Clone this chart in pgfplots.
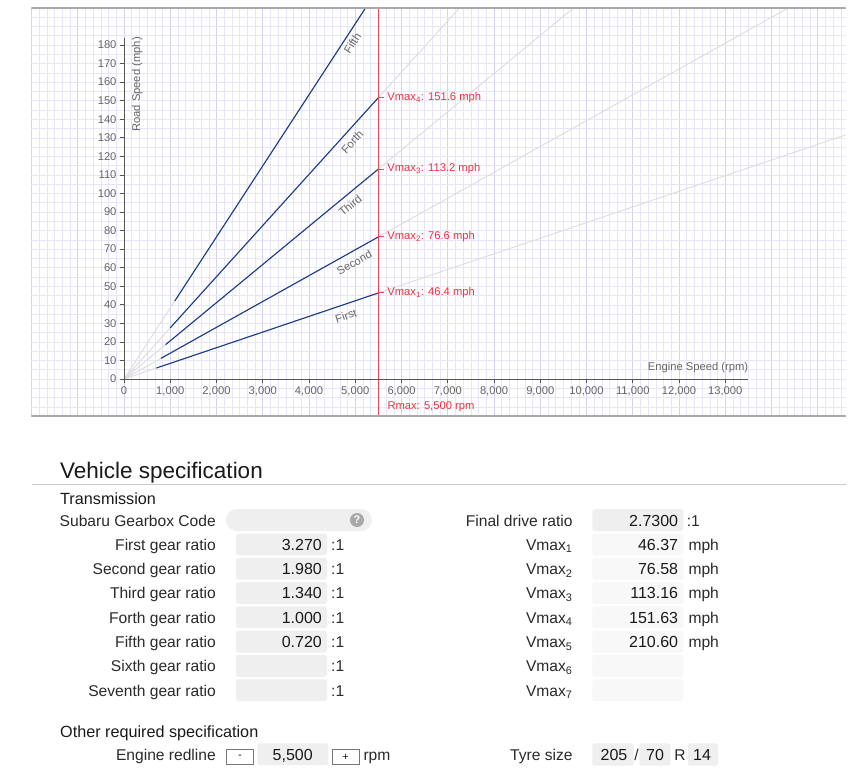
\documentclass[border=0pt]{standalone}
\usepackage{pgfplots}
\pgfplotsset{compat=1.18}
\usepackage{fontspec}
\setmainfont{Liberation Sans}
\definecolor{gmin}{HTML}{E6E6F8}
\definecolor{gmaj}{HTML}{D2D2F2}
\definecolor{bordergray}{HTML}{A8A8A8}
\definecolor{sepgray}{HTML}{C8C8C8}
\definecolor{navy}{HTML}{1A3A8C}
\definecolor{gext}{HTML}{DCDCDC}
\definecolor{redline}{HTML}{F04858}
\definecolor{redtext}{HTML}{F03040}
\definecolor{axisgray}{HTML}{555555}
\definecolor{tickgray}{HTML}{666666}
\definecolor{labelc}{HTML}{2A2A2A}
\definecolor{valc}{HTML}{1A1A1A}
\definecolor{boxgray}{HTML}{EFEFEF}
\definecolor{boxlight}{HTML}{F8F8F8}
\definecolor{qgray}{HTML}{A8A8A8}
\definecolor{btngray}{HTML}{777777}
\newcommand\cfont{\fontsize{11.2}{12.5}\selectfont}
\newcommand\ffont{\fontsize{15.6}{18}\selectfont}
\newcommand\hfont{\fontsize{16.2}{19}\selectfont}
\newcommand\vfont{\fontsize{16}{19}\selectfont}
\newcommand\lbl[3]{\node[anchor=base east, inner sep=0, text=labelc, font=\ffont] at (#1pt,-#2pt) {#3};}
\newcommand\val[3]{\node[anchor=base east, inner sep=0, text=valc, font=\vfont] at (#1pt,-#2pt) {#3};}
\newcommand\unit[3]{\node[anchor=base west, inner sep=0, text=labelc, font=\ffont] at (#1pt,-#2pt) {#3};}
\newcommand\gbox[3]{\fill[#3, rounded corners=2.5pt] (#1pt,-#2pt+16.8pt) rectangle ++(91pt,-21.8pt);}
\begin{document}
\begin{tikzpicture}
\path[use as bounding box, fill=white] (0pt,0pt) rectangle (857pt,-782pt);

% ---------- graph paper + data ----------
\begin{axis}[
  anchor=south west, at={(31.5pt,-416.1pt)},
  scale only axis, width=814pt, height=408.2pt,
  xmin=-2000, xmax=15600, ymin=-20, ymax=200,
  axis line style={draw=none},
  xtick={-3000,-2000,...,16000}, minor x tick num=5,
  ytick={-20,200}, minor y tick num=43,
  scaled ticks=false,
  grid=both,
  major grid style={gmaj, line width=0.6pt},
  minor grid style={gmin, line width=0.5pt},
  tick style={draw=none},
  xticklabels={}, yticklabels={},
  clip=true,
]
% light extensions from the origin
\addplot[gext, line width=0.9pt] coordinates {(0,0) (15600,131.52)};
\addplot[gext, line width=0.9pt] coordinates {(0,0) (14364,200)};
\addplot[gext, line width=0.9pt] coordinates {(0,0) (9721,200)};
\addplot[gext, line width=0.9pt] coordinates {(0,0) (7254,200)};
\addplot[gext, line width=0.9pt] coordinates {(0,0) (5223,200)};
% gear lines
\addplot[navy, line width=1.1pt] coordinates {(700,5.90) (5500,46.37)};
\addplot[navy, line width=1.1pt] coordinates {(800,11.14) (5500,76.58)};
\addplot[navy, line width=1.1pt] coordinates {(900,18.52) (5500,113.16)};
\addplot[navy, line width=1.1pt] coordinates {(1000,27.57) (5500,151.63)};
\addplot[navy, line width=1.1pt] coordinates {(1100,42.12) (5223,200)};
% redline
\addplot[redline, line width=1pt] coordinates {(5500,-20) (5500,200)};
\addplot[redline, line width=1pt] coordinates {(5500,46.37) (5630,46.37)};
\addplot[redline, line width=1pt] coordinates {(5500,76.58) (5630,76.58)};
\addplot[redline, line width=1pt] coordinates {(5500,113.16) (5630,113.16)};
\addplot[redline, line width=1pt] coordinates {(5500,151.63) (5630,151.63)};
% labels
\node[anchor=west, inner sep=0, xshift=2.8pt, text=redtext, font=\cfont] at (axis cs:5630,46.37) {Vmax\textsubscript{1}: 46.4 mph};
\node[anchor=west, inner sep=0, xshift=2.8pt, text=redtext, font=\cfont] at (axis cs:5630,76.58) {Vmax\textsubscript{2}: 76.6 mph};
\node[anchor=west, inner sep=0, xshift=2.8pt, text=redtext, font=\cfont] at (axis cs:5630,113.16) {Vmax\textsubscript{3}: 113.2 mph};
\node[anchor=west, inner sep=0, xshift=2.8pt, text=redtext, font=\cfont] at (axis cs:5630,151.63) {Vmax\textsubscript{4}: 151.6 mph};
\node[anchor=base west, inner sep=0, text=redtext, font=\cfont] at (axis cs:5693,-16.3) {Rmax: 5,500 rpm};
\node[rotate=56.94, text=tickgray, font=\cfont, inner sep=0] at (axis cs:4940,180.9) {Fifth};
\node[rotate=47.88, text=tickgray, font=\cfont, inner sep=0] at (axis cs:4934,127.7) {Forth};
\node[rotate=39.54, text=tickgray, font=\cfont, inner sep=0] at (axis cs:4891,93.6) {Third};
\node[rotate=29.19, text=tickgray, font=\cfont, inner sep=0] at (axis cs:4977,62.7) {Second};
\node[rotate=18.69, text=tickgray, font=\cfont, inner sep=0] at (axis cs:4799,34.1) {First};
\draw[bordergray, line width=1.3pt] (rel axis cs:0,1) -- (rel axis cs:1,1);
\draw[bordergray, line width=1.3pt] (rel axis cs:0,0) -- (rel axis cs:1,0);
\end{axis}

% ---------- real axes ----------
\begin{axis}[
  anchor=south west, at={(124pt,-379pt)},
  scale only axis, width=624.4pt, height=341.4pt,
  xmin=0, xmax=13500, ymin=0, ymax=184,
  axis lines=left,
  axis line style={-, axisgray, line width=0.8pt},
  xtick={0,1000,...,13000}, ytick={0,10,...,180},
  scaled ticks=false,
  tick align=outside, major tick length=4pt,
  tick style={axisgray, line width=0.7pt},
  tick label style={font=\cfont, text=tickgray},
  /pgf/number format/1000 sep={,},
  /pgf/number format/assume math mode=true,
]
\node[anchor=base east, inner sep=0, text=tickgray, font=\cfont] at (axis cs:13500,4.6) {Engine Speed (rpm)};
\end{axis}
\node[rotate=90, anchor=north east, inner sep=0, text=tickgray, font=\cfont] at (131.7pt,-37pt) {Road Speed (mph)};

% ---------- specification form ----------
\node[anchor=base west, inner sep=0, text=valc, font=\fontsize{22.5}{26}\selectfont] at (60pt,-478.3pt) {Vehicle specification};
\draw[sepgray, line width=1.6pt] (31.5pt,-484.5pt) -- (845.5pt,-484.5pt);
\node[anchor=base west, inner sep=0, text=valc, font=\hfont] at (60pt,-504pt) {Transmission};

% gearbox code
\fill[boxgray, rounded corners=11pt] (226pt,-509pt) rectangle (372pt,-531pt);
\fill[qgray] (357pt,-520pt) circle (7pt);
\node[text=white, font=\bfseries\fontsize{11}{12}\selectfont, inner sep=0] at (357pt,-520pt) {?};
\lbl{216}{526}{Subaru Gearbox Code}

% gear ratio rows
\gbox{236}{550.3}{boxgray}\lbl{216}{550.3}{First gear ratio}\val{322}{550.3}{3.270}\unit{331}{550.3}{:1}
\gbox{236}{574.6}{boxgray}\lbl{216}{574.6}{Second gear ratio}\val{322}{574.6}{1.980}\unit{331}{574.6}{:1}
\gbox{236}{598.9}{boxgray}\lbl{216}{598.9}{Third gear ratio}\val{322}{598.9}{1.340}\unit{331}{598.9}{:1}
\gbox{236}{623.2}{boxgray}\lbl{216}{623.2}{Forth gear ratio}\val{322}{623.2}{1.000}\unit{331}{623.2}{:1}
\gbox{236}{647.5}{boxgray}\lbl{216}{647.5}{Fifth gear ratio}\val{322}{647.5}{0.720}\unit{331}{647.5}{:1}
\gbox{236}{671.8}{boxgray}\lbl{216}{671.8}{Sixth gear ratio}\unit{331}{671.8}{:1}
\gbox{236}{696.1}{boxgray}\lbl{216}{696.1}{Seventh gear ratio}\unit{331}{696.1}{:1}

% right column
\gbox{592.3}{526}{boxgray}\lbl{572.7}{526}{Final drive ratio}\val{678.3}{526}{2.7300}\unit{686.7}{526}{:1}
\gbox{592.3}{550.3}{boxlight}\lbl{572.7}{550.3}{Vmax\textsubscript{1}}\val{678.3}{550.3}{46.37}\unit{688.3}{550.3}{mph}
\gbox{592.3}{574.6}{boxlight}\lbl{572.7}{574.6}{Vmax\textsubscript{2}}\val{678.3}{574.6}{76.58}\unit{688.3}{574.6}{mph}
\gbox{592.3}{598.9}{boxlight}\lbl{572.7}{598.9}{Vmax\textsubscript{3}}\val{678.3}{598.9}{113.16}\unit{688.3}{598.9}{mph}
\gbox{592.3}{623.2}{boxlight}\lbl{572.7}{623.2}{Vmax\textsubscript{4}}\val{678.3}{623.2}{151.63}\unit{688.3}{623.2}{mph}
\gbox{592.3}{647.5}{boxlight}\lbl{572.7}{647.5}{Vmax\textsubscript{5}}\val{678.3}{647.5}{210.60}\unit{688.3}{647.5}{mph}
\gbox{592.3}{671.8}{boxlight}\lbl{572.7}{671.8}{Vmax\textsubscript{6}}
\gbox{592.3}{696.1}{boxlight}\lbl{572.7}{696.1}{Vmax\textsubscript{7}}

% other required specification
\node[anchor=base west, inner sep=0, text=valc, font=\hfont] at (60pt,-737.7pt) {Other required specification};
\lbl{216}{760.7}{Engine redline}
\draw[btngray, fill=white, line width=0.8pt] (226.7pt,-749.3pt) rectangle (253.3pt,-764.3pt);
\node[inner sep=0, text=valc, font=\fontsize{11}{12}\selectfont] at (240pt,-757pt) {-};
\fill[boxgray, rounded corners=2.5pt] (257.3pt,-743.3pt) rectangle (328.3pt,-765pt);
\node[anchor=base, inner sep=0, text=valc, font=\vfont] at (292.7pt,-760.7pt) {5,500};
\draw[btngray, fill=white, line width=0.8pt] (332.3pt,-749.3pt) rectangle (359pt,-764.3pt);
\node[inner sep=0, text=valc, font=\fontsize{11}{12}\selectfont] at (345.6pt,-757pt) {+};
\unit{363.3}{760.7}{rpm}

\lbl{572.7}{760.7}{Tyre size}
\fill[boxgray, rounded corners=2.5pt] (592.3pt,-743.3pt) rectangle (633.7pt,-765.7pt);
\node[anchor=base, inner sep=0, text=valc, font=\vfont] at (614pt,-760.7pt) {205};
\node[anchor=base, inner sep=0, text=labelc, font=\ffont] at (636.5pt,-760.7pt) {/};
\fill[boxgray, rounded corners=2.5pt] (639.3pt,-743.3pt) rectangle (670.7pt,-765.7pt);
\node[anchor=base, inner sep=0, text=valc, font=\vfont] at (655pt,-760.7pt) {70};
\node[anchor=base, inner sep=0, text=labelc, font=\ffont] at (680pt,-760.7pt) {R};
\fill[boxgray, rounded corners=2.5pt] (688pt,-743.3pt) rectangle (718pt,-765.7pt);
\node[anchor=base, inner sep=0, text=valc, font=\vfont] at (702pt,-760.7pt) {14};
\end{tikzpicture}
\end{document}
